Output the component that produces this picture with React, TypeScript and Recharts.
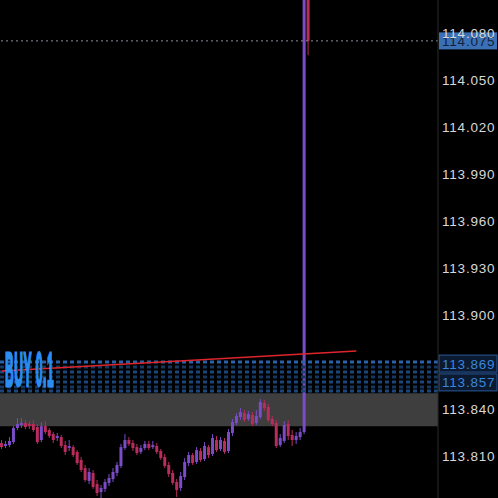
import React from 'react';
import { ComposedChart, Bar, XAxis, YAxis, ReferenceLine, ReferenceArea } from 'recharts';

const openPrices = [
  113.8183, 113.8164, 113.8170, 113.8189, 113.8279, 113.8298, 113.8311, 113.8304, 113.8304, 113.8285,
  113.8202, 113.8291, 113.8266, 113.8240, 113.8215, 113.8221, 113.8170, 113.8151, 113.8157, 113.8126,
  113.8075, 113.8023, 113.7941, 113.7992, 113.7921, 113.7870, 113.7890, 113.7928, 113.7953, 113.7992,
  113.8036, 113.8151, 113.8202, 113.8183, 113.8157, 113.8126, 113.8151, 113.8177, 113.8157, 113.8164,
  113.8132, 113.8094, 113.8043, 113.7992, 113.7934, 113.7896, 113.7966, 113.8055, 113.8106, 113.8062,
  113.8132, 113.8081, 113.8157, 113.8113, 113.8202, 113.8145, 113.8196, 113.8132, 113.8247, 113.8311,
  113.8349, 113.8374, 113.8336, 113.8362, 113.8311, 113.8349, 113.8438, 113.8413, 113.8336, 113.8311,
  113.8170, 113.8196, 113.8304, 113.8234, 113.8202, 113.8221, 113.8253, 114.1100,
];
const closePrices = [
  113.8157, 113.8177, 113.8196, 113.8279, 113.8304, 113.8311, 113.8285, 113.8291, 113.8266, 113.8189,
  113.8291, 113.8253, 113.8228, 113.8202, 113.8228, 113.8164, 113.8126, 113.8164, 113.8106, 113.8055,
  113.8011, 113.7947, 113.7998, 113.7902, 113.7864, 113.7896, 113.7934, 113.7960, 113.7998, 113.8043,
  113.8157, 113.8202, 113.8177, 113.8151, 113.8119, 113.8151, 113.8177, 113.8151, 113.8170, 113.8126,
  113.8087, 113.8036, 113.7985, 113.7928, 113.7883, 113.7972, 113.8062, 113.8106, 113.8055, 113.8138,
  113.8075, 113.8164, 113.8106, 113.8215, 113.8138, 113.8202, 113.8126, 113.8253, 113.8317, 113.8355,
  113.8381, 113.8330, 113.8368, 113.8304, 113.8355, 113.8445, 113.8406, 113.8330, 113.8304, 113.8164,
  113.8215, 113.8298, 113.8228, 113.8202, 113.8228, 113.8253, 114.1100, 114.0750,
];
const highPrices = [
  113.8202, 113.8196, 113.8221, 113.8291, 113.8342, 113.8342, 113.8330, 113.8323, 113.8330, 113.8304,
  113.8317, 113.8323, 113.8279, 113.8253, 113.8247, 113.8234, 113.8196, 113.8202, 113.8170, 113.8138,
  113.8094, 113.8043, 113.8023, 113.8011, 113.7947, 113.7915, 113.7953, 113.7985, 113.8023, 113.8062,
  113.8177, 113.8240, 113.8221, 113.8202, 113.8177, 113.8170, 113.8196, 113.8196, 113.8196, 113.8183,
  113.8145, 113.8113, 113.8062, 113.8011, 113.7953, 113.7998, 113.8087, 113.8126, 113.8119, 113.8157,
  113.8151, 113.8189, 113.8170, 113.8240, 113.8228, 113.8221, 113.8215, 113.8272, 113.8336, 113.8374,
  113.8406, 113.8394, 113.8387, 113.8381, 113.8394, 113.8464, 113.8457, 113.8432, 113.8355, 113.8330,
  113.8240, 113.8323, 113.8330, 113.8266, 113.8253, 113.8279, 114.1200, 114.1200,
];
const lowPrices = [
  113.8145, 113.8151, 113.8157, 113.8177, 113.8266, 113.8279, 113.8272, 113.8272, 113.8253, 113.8177,
  113.8189, 113.8240, 113.8215, 113.8183, 113.8196, 113.8151, 113.8106, 113.8132, 113.8094, 113.8043,
  113.7998, 113.7934, 113.7921, 113.7890, 113.7845, 113.7832, 113.7870, 113.7909, 113.7934, 113.7972,
  113.8023, 113.8138, 113.8164, 113.8132, 113.8106, 113.8113, 113.8138, 113.8138, 113.8145, 113.8113,
  113.8075, 113.8023, 113.7966, 113.7915, 113.7838, 113.7877, 113.7947, 113.8036, 113.8043, 113.8049,
  113.8062, 113.8068, 113.8087, 113.8100, 113.8126, 113.8132, 113.8113, 113.8119, 113.8228, 113.8298,
  113.8330, 113.8317, 113.8323, 113.8291, 113.8298, 113.8336, 113.8387, 113.8317, 113.8291, 113.8151,
  113.8157, 113.8183, 113.8202, 113.8164, 113.8177, 113.8202, 113.8240, 114.0658,
];

const totalSlots = 110;
const yTicks = [113.81, 113.84, 113.9, 113.93, 113.96, 113.99, 114.02, 114.05, 114.08];
const currentPrice = 114.075;
const entryTag = 113.869;
const secondTag = 113.857;
const orderLines = [113.870, 113.8668, 113.8636, 113.8604, 113.8572, 113.854, 113.8515];
const bandLow = 113.829;
const bandHigh = 113.850;
const trendStart = { idx: 0, price: 113.8642 };
const trendEnd = { idx: 89, price: 113.877 };
const orderText = 'BUY 0.1';

const BULL = '#7a4cc8';
const BEAR = '#b82d5c';

const rows = Array.from({ length: totalSlots }, (_, i) => {
  if (i < openPrices.length) {
    return {
      idx: i,
      open: openPrices[i],
      close: closePrices[i],
      high: highPrices[i],
      low: lowPrices[i],
      range: [lowPrices[i], highPrices[i]],
    };
  }
  return { idx: i, open: null, close: null, high: null, low: null, range: null };
});

const Candle = (props: any) => {
  const { x, y, width, height, payload } = props;
  if (!payload || payload.high == null) return null;
  const { open, close, high, low } = payload;
  const top = Math.min(y, y + height);
  const h = Math.abs(height);
  const span = high - low;
  const py = (v: number) => top + ((high - v) / span) * h;
  const up = close >= open;
  const color = up ? BULL : BEAR;
  const cx = x + width / 2;
  const bTop = py(Math.max(open, close));
  const bBot = py(Math.min(open, close));
  return (
    <g>
      <line x1={cx} x2={cx} y1={top} y2={top + h} stroke={color} strokeWidth={1} />
      <rect x={x} y={bTop} width={width} height={Math.max(1, bBot - bTop)} fill={color} />
    </g>
  );
};

const tagFont = '"Liberation Sans", Arial, sans-serif';

const PriceTag = (props: any) => {
  const { viewBox, text, fill, stroke, color } = props;
  if (!viewBox) return null;
  const x = viewBox.x + viewBox.width + 1;
  const y = viewBox.y;
  return (
    <g>
      <rect x={x} y={y - 8.5} width={58} height={17} fill={fill} stroke={stroke} strokeWidth={stroke ? 1 : 0} />
      <text x={x + 3} y={y + 5} fill={color} fontSize={13.5} fontFamily={tagFont} letterSpacing={0.8}>
        {text}
      </text>
    </g>
  );
};

const OrderLabel = (props: any) => {
  const { viewBox } = props;
  if (!viewBox) return null;
  return (
    <text
      transform={`translate(5, ${viewBox.y + 22}) scale(1, 4)`}
      fill="#2b8df2"
      stroke="#2b8df2"
      strokeWidth={0.7}
      fontSize={12}
      fontWeight="bold"
      fontFamily={tagFont}
      letterSpacing={0.6}
    >
      {orderText}
    </text>
  );
};

export default function App() {
  return (
    <div style={{ position: 'absolute', left: 0, top: 0, width: 498, height: 498, background: '#000' }}>
      <ComposedChart width={498} height={498} data={rows} margin={{ top: 0, right: 0, bottom: 0, left: 0 }}>
        <XAxis dataKey="idx" type="category" hide />
        <YAxis
          orientation="right"
          domain={[113.7832, 114.1011]}
          allowDataOverflow
          ticks={yTicks}
          width={60}
          tickSize={2}
          tickMargin={2}
          tickLine={false}
          axisLine={{ stroke: '#2a2a2a' }}
          tickFormatter={(v: number) => v.toFixed(3)}
          tick={{ fill: '#d8d8d8', fontSize: 13.5, fontFamily: tagFont, letterSpacing: 0.8 }}
        />
        {orderLines.map((p, i) => (
          <ReferenceLine
            key={p}
            y={p}
            stroke={i === 0 ? '#2a62aa' : i % 2 === 0 ? '#1b4679' : '#153760'}
            strokeWidth={3}
            strokeDasharray="4 3"
          />
        ))}
        <Bar dataKey="range" barSize={3} shape={<Candle />} isAnimationActive={false} />
        <ReferenceArea y1={bandLow} y2={bandHigh} fill="#8a8a8a" fillOpacity={0.45} stroke="none" />
        <ReferenceLine
          segment={[{ x: trendStart.idx, y: trendStart.price }, { x: trendEnd.idx, y: trendEnd.price }]}
          stroke="#e0242c"
          strokeWidth={1.5}
        />
        <ReferenceLine y={entryTag} stroke="none" label={<OrderLabel />} />
        <ReferenceLine
          y={currentPrice}
          stroke="#8a8f9a"
          strokeDasharray="2 3"
          label={<PriceTag text={currentPrice.toFixed(3)} fill="#3b71b4" color="#0f2240" />}
        />
        <ReferenceLine
          y={secondTag}
          stroke="none"
          label={<PriceTag text={secondTag.toFixed(3)} fill="#0b1a30" stroke="#2a5a9a" color="#3a86dc" />}
        />
        <ReferenceLine
          y={entryTag}
          stroke="none"
          label={<PriceTag text={entryTag.toFixed(3)} fill="#0b1a30" stroke="#2a5a9a" color="#3a86dc" />}
        />
      </ComposedChart>
    </div>
  );
}
